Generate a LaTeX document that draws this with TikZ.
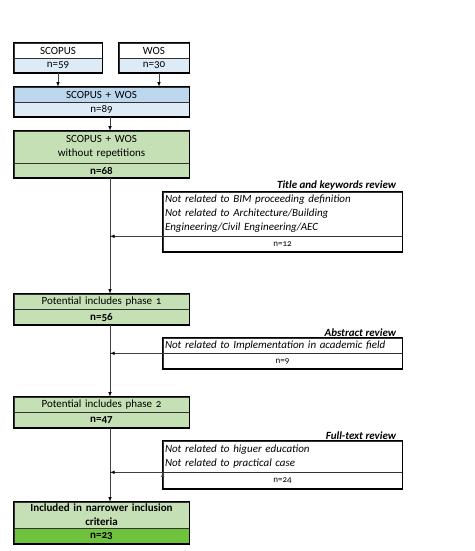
\documentclass[tikz,border=0pt]{standalone}
\usepackage{fontspec}
\setmainfont{Carlito}[Numbers=OldStyle]
\usetikzlibrary{arrows,positioning}
\definecolor{blueL}{HTML}{DDEBF7}
\definecolor{blueM}{HTML}{BDD7EE}
\definecolor{greenL}{HTML}{C5E0B4}
\definecolor{greenD}{HTML}{6FC33C}
\definecolor{linkgray}{HTML}{404040}
\tikzset{
	cell/.style={draw=black!80, line width=0.6pt, inner sep=0pt, align=center, minimum height=15pt, font=\fontsize{11}{14.5}\selectfont},
	main/.style={cell, text width=175pt},
	side/.style={cell, text width=235pt, inner xsep=2pt, align=left, font=\fontsize{11}{14}\selectfont\itshape},
	sidecount/.style={cell, text width=239pt, font=\fontsize{9}{10}\selectfont},
	head/.style={font=\fontsize{11}{12}\selectfont\bfseries\itshape, inner sep=1pt, anchor=south east},
	frame/.style={line width=1.4pt},
}

\begin{document}
\begin{tikzpicture}[x=1pt,y=-1pt,>=latex]
\useasboundingbox (0,0) rectangle (474,551);
\coordinate (spine) at (110,0);

\node[cell, text width=88pt, fill=white] (scopus) at (58,50.5) {SCOPUS};
\node[cell, text width=88pt, fill=blueL, minimum height=14pt, below=0pt of scopus] (scopusn) {n=59};
\node[cell, text width=70pt, fill=white] (wos) at (154,50.5) {WOS};
\node[cell, text width=70pt, fill=blueL, minimum height=14pt, below=0pt of wos] (wosn) {n=30};

\node[main, fill=blueM] (comb) at (101.5,94.5) {SCOPUS + WOS};
\node[main, fill=blueL, minimum height=14pt, below=0pt of comb] (combn) {n=89};

\node[main, fill=greenL, minimum height=32pt] (nodup) at (101.5,147) {SCOPUS + WOS\\without repetitions};
\node[main, fill=greenL, minimum height=14pt, below=0pt of nodup] (nodupn) {\bfseries n=68};

\node[side, minimum height=44pt] (title) at (282.5,214) {Not related to BIM proceeding definition\\Not related to Architecture/Building\\Engineering/Civil Engineering/AEC};
\node[sidecount, below=0pt of title] (titlen) {n=12};
\node[head] (titlehead) at ([xshift=-5pt]title.north east) {Title and keywords review};

\node[main, fill=greenL] (phaseA) at (101.5,301.5) {Potential includes phase 1};
\node[main, fill=greenL, below=0pt of phaseA] (phaseAn) {\bfseries n=56};

\node[side] (abstract) at (282.5,345.5) {Not related to Implementation in academic field};
\node[sidecount, below=0pt of abstract] (abstractn) {n=9};
\node[head] (abstracthead) at ([xshift=-5pt]abstract.north east) {Abstract review};

\node[main, fill=greenL] (phaseB) at (101.5,404.5) {Potential includes phase 2};
\node[main, fill=greenL, below=0pt of phaseB] (phaseBn) {\bfseries n=47};

\node[side, minimum height=31pt] (fulltext) at (282.5,456.5) {Not related to higuer education\\Not related to practical case};
\node[sidecount, minimum height=16pt, below=0pt of fulltext] (fulltextn) {n=24};
\node[head] (fulltexthead) at ([xshift=-5pt]fulltext.north east) {Full-text review};

\node[main, fill=greenL, minimum height=26pt, font=\fontsize{11}{14}\selectfont\bfseries] (final) at (101.5,515) {Included in narrower inclusion\\criteria};
\node[main, fill=greenD, below=0pt of final] (finaln) {\bfseries n=23};

\foreach \a/\b in {scopus/scopusn, wos/wosn, comb/combn, nodup/nodupn, title/titlen, phaseA/phaseAn, abstract/abstractn, phaseB/phaseBn, fulltext/fulltextn, final/finaln}
	\draw[frame] (\a.north west) rectangle (\b.south east);

\path[->, draw=linkgray, line width=0.6pt]
(scopusn.south) edge (scopusn.south |- comb.north)
([xshift=5pt]wosn.south) edge ([xshift=5pt]wosn.south |- comb.north)
(combn.south -| spine) edge (nodup.north -| spine)
(nodupn.south -| spine) edge (phaseA.north -| spine)
(phaseAn.south -| spine) edge (phaseB.north -| spine)
(phaseBn.south -| spine) edge (final.north -| spine)
(title.south west) edge (title.south west -| spine)
(abstract.south west) edge (abstract.south west -| spine)
(fulltext.south west) edge (fulltext.south west -| spine)
;
\end{tikzpicture}
\end{document}
